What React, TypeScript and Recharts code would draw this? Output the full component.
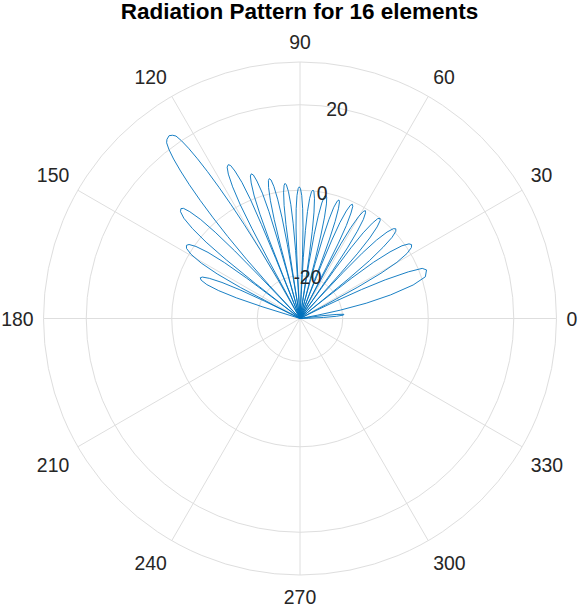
import { RadarChart, Radar, PolarGrid, PolarAngleAxis, PolarRadiusAxis } from 'recharts';

// Pattern samples: angle in degrees, gain in dB.
// Values at the nulls sit on the -30 dB limit (the centre of the plot).
const thetaDeg = [
  0, 1.5, 2.5, 3.5, 4.5, 5.5, 6.4, 7.2, 8.1,
  10.7, 11.7, 13.0, 14.6, 16.5, 18.4, 21.0, 22.3, 23.3, 24.4, 25.2, 25.8, 26.4, 27.7,
  28.1, 28.5, 29.2, 30.1, 31.3, 32.5, 33.5, 34.4, 35.5, 36.5, 37.4, 38.0, 38.4, 38.7,
  39.0, 39.3, 39.8, 40.6, 41.4, 42.3, 43.1, 43.9, 44.8, 45.7, 46.4, 46.9, 47.2, 47.5,
  47.7, 48.1, 48.5, 49.1, 49.9, 50.7, 51.4, 52.1, 52.8, 53.6, 54.2, 54.7, 55.0, 55.2,
  55.4, 55.7, 56.1, 56.7, 57.4, 58.2, 58.8, 59.4, 60.1, 60.8, 61.3, 61.7, 62.0, 62.2,
  62.4, 62.7, 63.0, 63.5, 64.2, 64.8, 65.4, 66.0, 66.7, 67.4, 67.9, 68.3, 68.6, 68.8,
  69.0, 69.2, 69.6, 70.1, 70.7, 71.3, 71.8, 72.4, 73.1, 73.7, 74.2, 74.6, 74.9, 75.1,
  75.3, 75.5, 75.9, 76.4, 77.0, 77.6, 78.1, 78.7, 79.3, 79.9, 80.4, 80.8, 81.0, 81.2,
  81.4, 81.6, 82.0, 82.5, 83.1, 83.7, 84.2, 84.8, 85.4, 86.0, 86.5, 86.9, 87.1, 87.3,
  87.5, 87.7, 88.1, 88.6, 89.2, 89.8, 90.3, 90.8, 91.4, 92.0, 92.5, 92.9, 93.1, 93.3,
  93.5, 93.7, 94.1, 94.6, 95.2, 95.8, 96.3, 96.8, 97.4, 98.0, 98.5, 98.9, 99.1, 99.3,
  99.5, 99.7, 100.1, 100.6, 101.2, 101.8, 102.4, 102.9, 103.5, 104.1, 104.6, 105.0, 105.2, 105.4,
  105.6, 105.9, 106.2, 106.7, 107.4, 108.0, 108.6, 109.2, 109.8, 110.5, 111.0, 111.4, 111.6, 111.8,
  112.0, 112.3, 112.6, 113.1, 113.8, 114.4, 115.0, 115.7, 116.4, 117.1, 117.7, 118.1, 118.4, 118.6,
  119.5, 120.1, 120.7, 121.2, 121.7, 122.2, 122.7, 123.2, 123.7, 124.2, 124.8, 125.6,
  126.6, 127.2, 127.8, 128.4, 129.0, 129.6, 130.2, 130.8, 131.4, 132.1, 132.8, 133.5,
  133.7, 134.0, 134.5, 135.1, 135.9, 136.6, 137.3, 138.2, 139.2, 140.1, 140.9, 141.5, 141.9, 142.2,
  142.5, 142.9, 143.5, 144.3, 145.3, 146.3, 147.2, 148.3, 149.5, 150.7, 151.7, 152.5, 152.9, 153.3,
  153.9, 154.5, 155.2, 156.1, 157.0, 157.8, 158.8, 160.0, 161.1, 162.0, 162.7, 163.5,
  180,
];

const gainDb = [
  -30, -28, -24.5, -21.5, -19.8, -19.7, -21.5, -25, -30,
  -25.8, -20.4, -14.1, -8.1, -2.4, 0.9, 1.7, 0.9, -2.4, -8.1, -14.1, -20.4, -25.8, -30,
  -23.3, -14.6, -8.3, -3.8, -0.7, 0.9, 1.3, 0.9, -0.7, -3.8, -8.3, -14.6, -23.3, -30,
  -23.9, -15.2, -8.9, -4.4, -1.3, 0.3, 0.7, 0.3, -1.3, -4.4, -8.9, -15.2, -23.9, -30,
  -24.6, -15.9, -9.6, -5.1, -2.0, -0.4, 0, -0.4, -2.0, -5.1, -9.6, -15.9, -24.6, -30,
  -25.1, -16.4, -10.1, -5.6, -2.5, -0.9, -0.5, -0.9, -2.5, -5.6, -10.1, -16.4, -25.1, -30,
  -25.2, -16.5, -10.2, -5.7, -2.6, -1.0, -0.6, -1.0, -2.6, -5.7, -10.2, -16.5, -25.2, -30,
  -25.4, -16.7, -10.4, -5.9, -2.8, -1.2, -0.8, -1.2, -2.8, -5.9, -10.4, -16.7, -25.4, -30,
  -25.1, -16.4, -10.1, -5.6, -2.5, -0.9, -0.5, -0.9, -2.5, -5.6, -10.1, -16.4, -25.1, -30,
  -24.4, -15.7, -9.4, -4.9, -1.8, -0.2, 0.2, -0.2, -1.8, -4.9, -9.4, -15.7, -24.4, -30,
  -23.8, -15.1, -8.8, -4.3, -1.2, 0.4, 0.8, 0.4, -1.2, -4.3, -8.8, -15.1, -23.8, -30,
  -22.8, -14.1, -7.8, -3.3, -0.2, 1.4, 1.8, 1.4, -0.2, -3.3, -7.8, -14.1, -22.8, -30,
  -21.1, -12.4, -6.1, -1.6, 1.5, 3.1, 3.5, 3.1, 1.5, -1.6, -6.1, -12.4, -21.1, -30,
  -18.9, -10.2, -3.9, 0.6, 3.7, 5.3, 5.7, 5.3, 3.7, 0.6, -3.9, -10.2, -18.9, -30,
  -14.9, -6.2, 0.1, 4.6, 7.7, 9.3, 9.7, 9.3, 7.7, 4.6, 0.1, -6.2, -14.9, -30,
  -19.4, -11.4, -4.4, 1.1, 6.1, 10.6, 14.4, 17.6, 20.0, 21.6, 22.2, 22.6,
  22.2, 21.6, 20.0, 17.6, 14.4, 10.6, 6.1, 1.1, -4.4, -11.4, -19.4, -30,
  -16.7, -8.0, -1.7, 2.8, 5.9, 7.5, 7.9, 7.5, 5.9, 2.8, -1.7, -8.0, -16.7, -30,
  -23.0, -14.3, -8.0, -3.5, -0.4, 1.2, 1.6, 1.2, -0.4, -3.5, -8.0, -14.3, -23.0, -30,
  -20.7, -14.4, -9.9, -6.8, -5.2, -4.8, -5.2, -6.8, -9.9, -14.4, -20.7, -30,
  -30,
];

const angleTicks = [0, 30, 60, 90, 120, 150, 180, 210, 240, 270, 300, 330];
const radiusTicks = [-20, 0, 20, 30];
const radiusTickLabels = ['-20', '0', '20', ''];
const title = 'Radiation Pattern for 16 elements';

const pattern = thetaDeg.map((angle, i) => ({ angle, gain: gainDb[i] }));

const FONT = '"Liberation Sans", Arial, Helvetica, sans-serif';
const TEXT = '#262626';
const GRID = '#dedede';

// theta labels are aligned like MATLAB: away from the circle on both axes
const AngleTick = (props: any) => {
  const { x, y, payload } = props;
  const a = (payload.value * Math.PI) / 180;
  const c = Math.cos(a);
  const s = Math.sin(a);
  const anchor = c > 0.01 ? 'start' : c < -0.01 ? 'end' : 'middle';
  const dy = s > 0.01 ? -3.5 : s < -0.01 ? (anchor === 'middle' ? 19 : 20.5) : 7;
  return (
    <text x={x} y={y + dy} textAnchor={anchor} fill={TEXT} fontSize={19.4} fontFamily={FONT}>
      {payload.value}
    </text>
  );
};

const RadiusTick = (props: any) => {
  const { x, y, payload } = props;
  const label = radiusTickLabels[radiusTicks.indexOf(payload.value)];
  if (!label) return <g />;
  return (
    <text x={x} y={y + 8} textAnchor="middle" fill={TEXT} fontSize={19.4} fontFamily={FONT}>
      {label}
    </text>
  );
};

export default function App() {
  return (
    <div style={{ position: 'absolute', left: 0, top: 0, width: 578, height: 608, background: '#fff' }}>
      <div
        style={{
          position: 'absolute',
          left: 0,
          top: 0.5,
          width: 599,
          textAlign: 'center',
          fontFamily: FONT,
          fontWeight: 'bold',
          fontSize: 22.5,
          lineHeight: '22.5px',
          color: '#000',
        }}
      >
        {title}
      </div>
      <RadarChart
        width={578}
        height={608}
        data={pattern}
        cx={300}
        cy={318.5}
        outerRadius={256.5}
        startAngle={0}
        endAngle={360}
        margin={{ top: 0, right: 0, bottom: 0, left: 0 }}
      >
        <PolarGrid gridType="circle" stroke={GRID} strokeWidth={1} />
        <PolarAngleAxis
          dataKey="angle"
          type="number"
          domain={[0, 360]}
          ticks={angleTicks}
          tickSize={10}
          tickLine={false}
          axisLine={false}
          tick={(p: any) => <AngleTick {...p} />}
        />
        <PolarRadiusAxis
          type="number"
          angle={80}
          domain={[-30, 30]}
          ticks={radiusTicks}
          axisLine={false}
          tickLine={false}
          tick={(p: any) => <RadiusTick {...p} />}
        />
        <Radar
          dataKey="gain"
          stroke="#0072BD"
          strokeWidth={0.9}
          fill="none"
          fillOpacity={0}
          dot={false}
          isAnimationActive={false}
        />
      </RadarChart>
    </div>
  );
}
